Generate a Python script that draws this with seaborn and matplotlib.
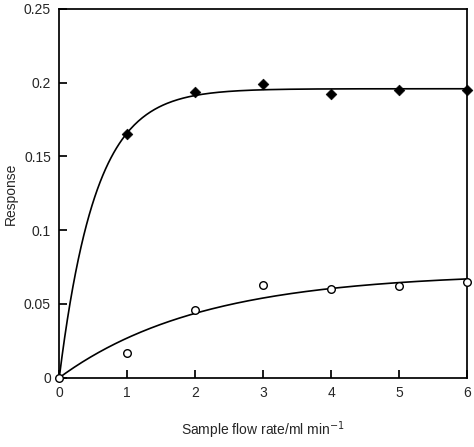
import matplotlib
matplotlib.use("Agg")
import matplotlib.pyplot as plt
import numpy as np
import seaborn as sns

flow = np.array([0, 1, 2, 3, 4, 5, 6])
resp_diamond = np.array([0.0, 0.165, 0.194, 0.199, 0.192, 0.195, 0.195])
resp_circle = np.array([0.0, 0.017, 0.046, 0.063, 0.060, 0.062, 0.065])


def fit_rise(x, y):
    # y = a * (1 - exp(-k x)), grid search over k, least squares for a
    best = None
    for k in np.linspace(0.05, 5, 2000):
        g = 1 - np.exp(-k * x)
        a = (g @ y) / (g @ g)
        err = np.sum((a * g - y) ** 2)
        if best is None or err < best[0]:
            best = (err, a, k)
    return best[1], best[2]


sns.set_theme(style="ticks")
plt.rcParams['font.family'] = ['Liberation Sans', 'DejaVu Sans']

fig, ax = plt.subplots(figsize=(4.74, 4.47), dpi=100)
xs = np.linspace(0, 6, 300)
for y in (resp_diamond, resp_circle):
    a, k = fit_rise(flow, y)
    sns.lineplot(x=xs, y=a * (1 - np.exp(-k * xs)), color="black", lw=1.2, ax=ax)

sns.scatterplot(x=flow[1:], y=resp_diamond[1:], marker="D", s=30, color="black",
                edgecolor="black", ax=ax, zorder=3, clip_on=False)
sns.scatterplot(x=flow, y=resp_circle, marker="o", s=30, facecolor="white",
                edgecolor="black", linewidth=1, ax=ax, zorder=3, clip_on=False)

ax.set_xlim(0, 6)
ax.set_ylim(0, 0.25)
ax.set_xticks(range(7))
ax.set_yticks([0, 0.05, 0.1, 0.15, 0.2, 0.25])
ax.set_yticklabels(["0", "0.05", "0.1", "0.15", "0.2", "0.25"])
ax.tick_params(direction="in", labelsize=10, color="black", pad=6)
for s in ax.spines.values():
    s.set_color("black")
ax.set_xlabel("Sample flow rate/ml min$^{-1}$", fontsize=10, labelpad=14)
ax.set_ylabel("Response", fontsize=10, labelpad=4)
fig.subplots_adjust(left=0.125, right=0.985, top=0.98, bottom=0.155)
fig.savefig("out.png")
